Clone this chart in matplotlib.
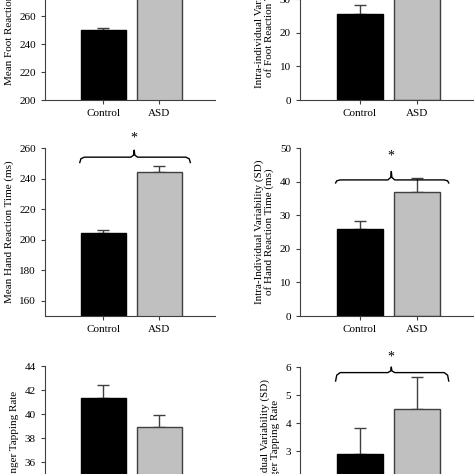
import matplotlib
matplotlib.use("Agg")
import matplotlib.pyplot as plt

groups = ["Control", "ASD"]
foot_mean = [249.8, 285.0]; foot_mean_err = [1.6, 4.0]
foot_sd = [25.7, 38.0]; foot_sd_err = [2.7, 4.0]
hand_mean = [204.6, 244.6]; hand_mean_err = [1.7, 3.9]
hand_sd = [25.9, 37.0]; hand_sd_err = [2.4, 4.0]
tap_mean = [41.3, 38.9]; tap_mean_err = [1.15, 1.0]
tap_sd = [2.88, 4.49]; tap_sd_err = [0.95, 1.16]

plt.rcParams['font.family'] = ['Liberation Serif', 'DejaVu Serif']
fig = plt.figure(figsize=(4.74, 4.74), dpi=100)

def ax_at(left_px, top_px, w_px=172, h_px=168):
    return fig.add_axes([left_px/474, 1-(top_px+h_px)/474, w_px/474, h_px/474])

def brace(ax, tip, h, peak, star):
    x0, x1, m = -0.42, 1.55, 0.55
    xs = [x0, x0+0.02, x0+0.08, m-0.06, m-0.01, m, m+0.01, m+0.06, x1-0.08, x1-0.02, x1]
    ys = [tip, h-(h-tip)*0.3, h, h, h+(peak-h)*0.3, peak, h+(peak-h)*0.3, h, h, h-(h-tip)*0.3, tip]
    ax.plot(xs, ys, color='black', lw=1.0, clip_on=False)
    ax.text(m, star, '*', ha='center', va='center', fontsize=10, clip_on=False)

panels = [
    (45, -68, foot_mean, foot_mean_err, (200, 320), [200, 220, 240, 260, 280, 300, 320], "Mean Foot Reaction Time (ms)", None),
    (300, -68, foot_sd, foot_sd_err, (0, 50), [0, 10, 20, 30, 40, 50], "Intra-individual Variability (SD)\nof Foot Reaction Time (ms)", None),
    (45, 148, hand_mean, hand_mean_err, (150, 260), [160, 180, 200, 220, 240, 260], "Mean Hand Reaction Time (ms)", (250.5, 254.0, 258.6, 266.5)),
    (300, 148, hand_sd, hand_sd_err, (0, 50), [0, 10, 20, 30, 40, 50], "Intra-Individual Variability (SD)\nof Hand Reaction Time (ms)", (39.6, 40.5, 43.0, 47.6)),
    (45, 366, tap_mean, tap_mean_err, (30, 44), [30, 32, 34, 36, 38, 40, 42, 44], "Mean Finger Tapping Rate", None),
    (300, 367, tap_sd, tap_sd_err, (0, 6), [0, 1, 2, 3, 4, 5, 6], "Intra-individual Variability (SD)\nof Finger Tapping Rate", (5.5, 5.8, 6.0, 6.35)),
]

for left, top, vals, errs, ylim, yt, lab, br in panels:
    ax = ax_at(left, top, 170 if left == 45 else 174)
    ax.bar([0, 1], vals, width=0.8, color=['black', '#c0c0c0'],
           edgecolor=['black', '#404040'], linewidth=1.0, zorder=2)
    ax.errorbar([0, 1], vals, yerr=[[0, 0], errs], fmt='none', ecolor='#404040',
                elinewidth=1.0, capsize=4, capthick=1.0, zorder=1)
    ax.set_xlim(-1.04, 1.99)
    ax.set_ylim(*ylim)
    ax.set_yticks(yt)
    ax.set_xticks([0, 1])
    ax.set_xticklabels(groups)
    ax.tick_params(labelsize=8, length=3, color='#404040')
    for s in ['top', 'right']:
        ax.spines[s].set_visible(False)
    for s in ['left', 'bottom']:
        ax.spines[s].set_color('#404040')
    ax.set_ylabel(lab, fontsize=8, labelpad=4, linespacing=1.0)
    if br:
        brace(ax, *br)

fig.savefig("out.png", dpi=100)
